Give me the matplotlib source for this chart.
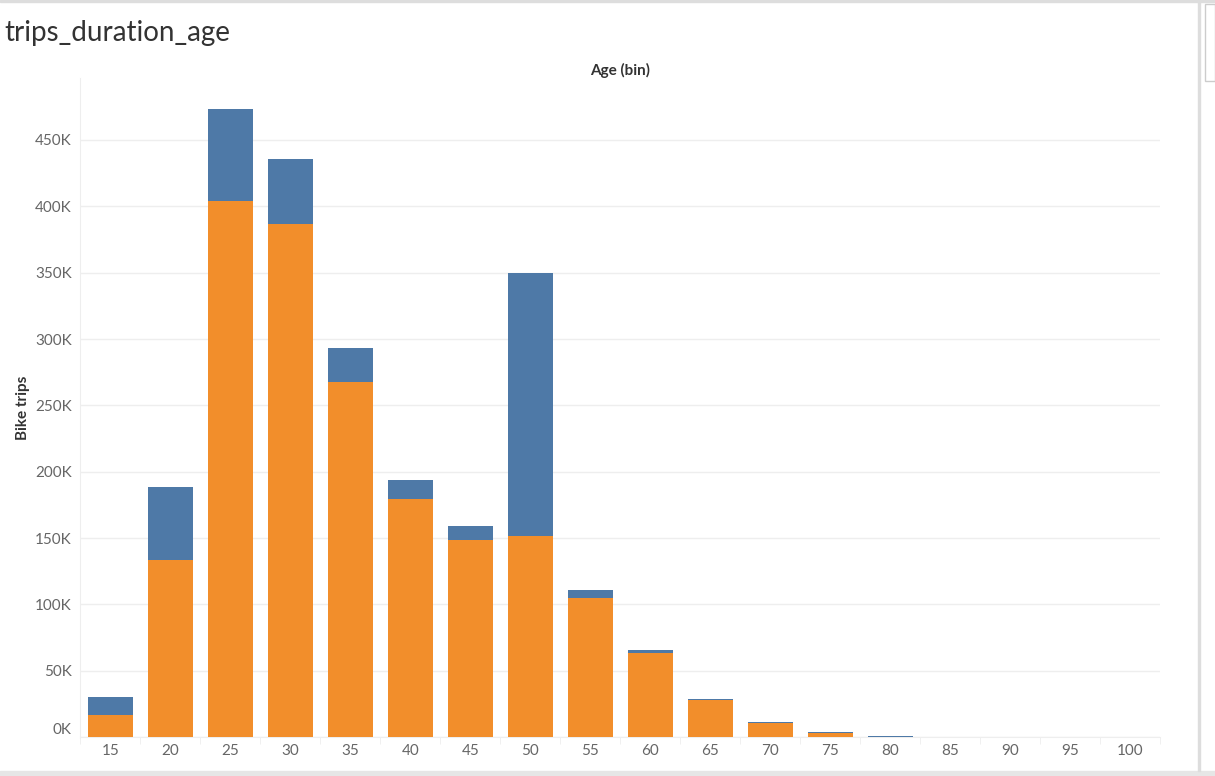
import matplotlib
matplotlib.use('Agg')
from matplotlib import pyplot as plt
from matplotlib.patches import Rectangle
from matplotlib.ticker import FuncFormatter
import numpy as np

plt.rcParams['font.family'] = ['Lato', 'DejaVu Sans']

age_bins = ['15', '20', '25', '30', '35', '40', '45', '50', '55',
            '60', '65', '70', '75', '80', '85', '90', '95', '100']
# orange part (lower segment) and blue part (upper segment) of each bar
orange_trips = [16600, 133600, 404000, 386600, 268000, 179700, 148700, 151800, 105000,
                63600, 28400, 10800, 3000, 300, 0, 0, 0, 0]
blue_trips = [13600, 55200, 69000, 49400, 25000, 14300, 10300, 197800, 6000,
              2100, 600, 500, 800, 500, 0, 0, 0, 0]

blue = '#4E79A7'
orange = '#F28E2B'
grid_col = '#EEEEEE'
tick_col = '#666666'

fig = plt.figure(figsize=(12.15, 7.76), dpi=100)
ax = fig.add_axes([0.066, 0.05, 0.889, 0.85])

x = np.arange(len(age_bins))
ax.bar(x, orange_trips, width=0.75, color=orange, zorder=3)
ax.bar(x, blue_trips, width=0.75, bottom=orange_trips, color=blue, zorder=3)

ax.set_xlim(-0.5, len(age_bins) - 0.5)
ax.set_ylim(0, 497000)
ax.set_yticks(np.arange(0, 450001, 50000))
ax.yaxis.set_major_formatter(FuncFormatter(lambda v, p: '%dK' % (v / 1000)))
ax.set_xticks(x)
ax.set_xticklabels(age_bins)
ax.set_xticks(np.arange(-0.5, len(age_bins), 1), minor=True)

ax.grid(axis='y', color=grid_col, linewidth=1, zorder=0)
for s in ['top', 'right']:
    ax.spines[s].set_visible(False)
ax.spines['left'].set_color(grid_col)
ax.spines['bottom'].set_color(grid_col)

ax.tick_params(axis='x', which='major', length=0, colors=tick_col, labelsize=11, pad=5)
ax.tick_params(axis='x', which='minor', length=5, color=grid_col)
ax.tick_params(axis='y', length=0, colors=tick_col, labelsize=11, pad=6)
ax.get_yticklabels()[0].set_va('bottom')

ax.set_ylabel('Bike trips', fontsize=11, color='#333333', fontweight='bold', labelpad=4)
ax.set_title('Age (bin)', fontsize=11, color='#333333', fontweight='bold', pad=0)

fig.text(0.004, 0.957, 'trips_duration_age', fontsize=20, color='#333333', va='center')

# dashboard frame bits
fig.add_artist(Rectangle((0, 0.997), 1, 0.003, transform=fig.transFigure, color='#DDDDDD'))
fig.add_artist(Rectangle((0, 0), 1, 0.007, transform=fig.transFigure, color='#E6E6E6'))
fig.add_artist(Rectangle((0.986, 0.007), 0.002, 0.99, transform=fig.transFigure, color='#DDDDDD'))
fig.add_artist(Rectangle((0.992, 0.895), 0.008, 0.1, transform=fig.transFigure,
                         facecolor='white', edgecolor='#CCCCCC'))

fig.savefig('out.png', dpi=100)
